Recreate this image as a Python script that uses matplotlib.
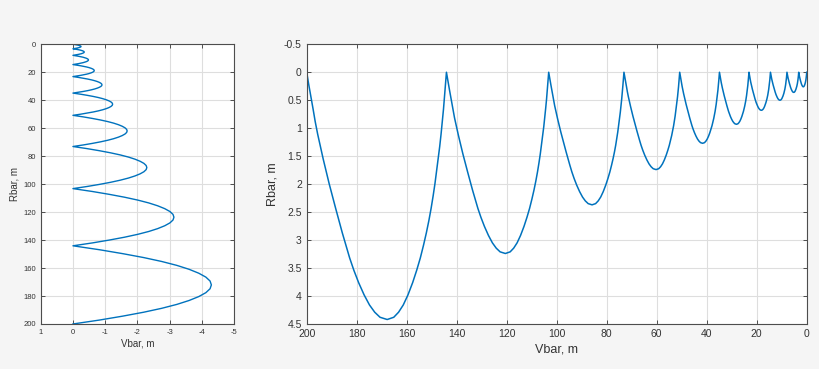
import numpy as np
import matplotlib.pyplot as plt
from matplotlib.ticker import FuncFormatter, MultipleLocator

# V-bar positions (m) where the trajectory comes back to R-bar = 0
cusp_v = [200, 144.1, 103.2, 73.1, 50.8, 34.9, 23.1, 14.5, 7.9, 3.2, 0]
# deepest R-bar excursion of each hop (m), right panel
hop_depth = [4.42, 3.24, 2.37, 1.74, 1.27, 0.93, 0.68, 0.50, 0.36, 0.26]
# deepest excursion of each lobe, left panel
lobe_depth = [4.29, 3.13, 2.29, 1.68, 1.23, 0.90, 0.66, 0.48, 0.35, 0.25]

# first (largest) hop; later hops have the same shape
hop1_v = [200, 199.18, 198.30, 197.43, 196.60, 195.59, 194.51, 193.40, 192.22,
          191.02, 189.74, 188.43, 187.10, 185.76, 184.34, 182.81, 181.13,
          179.23, 177.03, 174.88, 172.78, 170.66, 167.80,
          165.17, 163.25, 161.37, 159.49, 157.61, 156.00, 154.55, 153.26,
          152.13, 151.12, 150.22, 149.42, 148.69, 148.06, 147.43, 146.80,
          146.26, 145.75, 145.28, 144.89, 144.48, 144.1]
hop1_r = [0, 0.22, 0.44, 0.66, 0.88, 1.11, 1.33, 1.55, 1.77,
          1.99, 2.21, 2.43, 2.65, 2.87, 3.09, 3.32, 3.54,
          3.76, 3.98, 4.16, 4.29, 4.38, 4.42,
          4.38, 4.29, 4.16, 3.98, 3.76, 3.54, 3.32, 3.09,
          2.87, 2.65, 2.43, 2.21, 1.99, 1.77, 1.55, 1.33,
          1.11, 0.88, 0.66, 0.44, 0.22, 0]

# first (largest) lobe
lobe1_y = [200, 197.2, 194.4, 191.6, 188.8, 186.0, 183.2, 180.4, 177.6, 174.8,
           172.05, 169.3, 166.5, 163.7, 160.9, 158.1, 155.3, 152.5, 149.7,
           146.9, 144.1]
lobe1_x = [0, -0.82, -1.54, -2.19, -2.75, -3.22, -3.60, -3.90, -4.12, -4.25,
           -4.29, -4.25, -4.12, -3.90, -3.60, -3.22, -2.75, -2.19, -1.54,
           -0.82, 0]


def build(shape_a, shape_b, depths):
    # repeat the read shape between successive cusps, scaled to each depth
    a = np.array(shape_a, dtype=float)
    b = np.array(shape_b, dtype=float)
    u = (a[0] - a) / (a[0] - a[-1])
    s = b / np.abs(b).max()
    pa, pb = [], []
    for i, d in enumerate(depths):
        v0, v1 = cusp_v[i], cusp_v[i + 1]
        pa.extend(v0 - u * (v0 - v1))
        pb.extend(s * d)
    return np.array(pa), np.array(pb)


vbar, rbar = build(hop1_v, hop1_r, hop_depth)
lobe_y, lobe_x = build(lobe1_y, lobe1_x, lobe_depth)

line_col = "#0072BD"
edge_col = "#4d4d4d"
grid_col = "#dedede"
text_col = "#333333"

plt.rcParams["font.family"] = ["Liberation Sans", "DejaVu Sans"]

fig = plt.figure(figsize=(8.2, 3.69), dpi=100, facecolor="#f5f5f5")
ax1 = fig.add_axes([0.0496, 0.122, 0.2361, 0.758])
ax2 = fig.add_axes([0.374, 0.122, 0.6098, 0.758])


def style(ax, fs):
    ax.set_facecolor("white")
    ax.grid(True, color=grid_col, linewidth=0.8)
    ax.set_axisbelow(True)
    for sp in ax.spines.values():
        sp.set_color(edge_col)
        sp.set_linewidth(0.8)
    ax.tick_params(direction="in", length=3, width=0.7, color=edge_col,
                   labelcolor=text_col, labelsize=fs, top=True, right=True)
    ax.xaxis.set_major_formatter(FuncFormatter(lambda x, p: f"{x:g}"))
    ax.yaxis.set_major_formatter(FuncFormatter(lambda x, p: f"{x:g}"))


# left panel
ax1.plot(lobe_x, lobe_y, color=line_col, linewidth=1)
ax1.set_xlim(1, -5)
ax1.set_ylim(200, 0)
ax1.xaxis.set_major_locator(MultipleLocator(1))
ax1.yaxis.set_major_locator(MultipleLocator(20))
style(ax1, 5.5)
ax1.set_xlabel("Vbar, m", fontsize=7, color=text_col, labelpad=2)
ax1.set_ylabel("Rbar, m", fontsize=7, color=text_col, labelpad=3)

# right panel
ax2.plot(vbar, rbar, color=line_col, linewidth=1.1)
ax2.set_xlim(200, 0)
ax2.set_ylim(4.5, -0.5)
ax2.xaxis.set_major_locator(MultipleLocator(20))
ax2.yaxis.set_major_locator(MultipleLocator(0.5))
style(ax2, 7.5)
ax2.set_xlabel("Vbar, m", fontsize=9, color=text_col, labelpad=3)
ax2.set_ylabel("Rbar, m", fontsize=9, color=text_col, labelpad=4)

fig.savefig("out.png", dpi=100, facecolor=fig.get_facecolor())
plt.close(fig)
